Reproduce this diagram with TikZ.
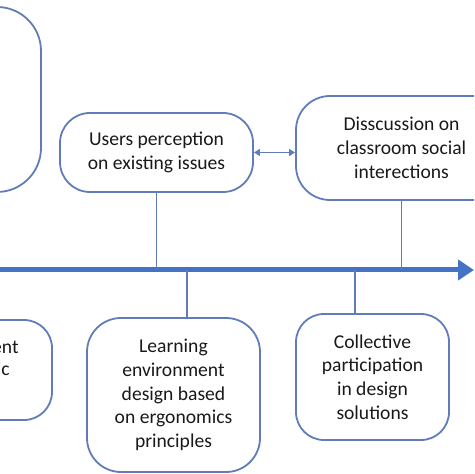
\documentclass[tikz,border=0pt]{standalone}
\usepackage{fontspec}
\setmainfont{Carlito}
\usetikzlibrary{arrows.meta}
\definecolor{boxline}{RGB}{96,124,186}
\definecolor{axisblue}{RGB}{68,114,196}
\definecolor{txt}{RGB}{25,25,25}
\begin{document}
\begin{tikzpicture}[x=0.5pt,y=-0.5pt]
        \tikzstyle{stage}=[draw=boxline,line width=0.9pt,rounded corners=15pt,align=center,text=txt,font=\fontsize{9.8}{11.9}\selectfont,inner sep=0pt]
        \tikzstyle{edge}=[draw=boxline,line width=0.9pt]
        \tikzstyle{axis}=[draw=axisblue,line width=2.5pt,-{Triangle[length=8pt,width=10pt]}]
        \useasboundingbox (0,0) rectangle (474,474);
        \clip (0,0) rectangle (474,474);
       \begin{scope}
         % upper row
         \node [stage,minimum width=101pt,minimum height=92.5pt,rounded corners=22pt] (past) at (-60,99.5) {};
         \node [stage,minimum width=96.5pt,minimum height=39.5pt] (users) at (156.5,152.5) {Users perception\\on existing issues};
         \node [stage,minimum width=105.5pt,minimum height=52pt,rounded corners=17pt] (disc) at (401.5,148) {Disscussion on\\classroom social\\interections};

         % lower row
         \node [stage,minimum width=76pt,minimum height=50pt,rounded corners=14pt] (prev) at (-24,370) {};
         \node [anchor=base east,text=txt,font=\fontsize{9.8}{11.9}\selectfont,inner sep=0pt] (prev1) at (19,353) {ent};
         \node [anchor=base east,text=txt,font=\fontsize{9.8}{11.9}\selectfont,inner sep=0pt] (prev2) at (10,375) {ic};
         \node [stage,minimum width=86.5pt,minimum height=77pt,rounded corners=17pt] (learn) at (173.5,395) {Learning\\environment\\design based\\on ergonomics\\principles};
         \node [stage,minimum width=76.5pt,minimum height=63pt,rounded corners=14pt] (collect) at (372.5,377) {Collective\\participation\\in design\\solutions};

         % time line
         \coordinate (start) at (0,270);
         \coordinate (end) at (474,270);
         \coordinate (b1) at (187,270);
         \coordinate (b2) at (355,270);
         \path[axis] (start) -- (end);

         \path[edge] (users.south) -- (users.south |- start);
         \path[edge] (disc.south) -- (disc.south |- start);
         \path[edge] (b1) -- (b1 |- learn.north);
         \path[edge] (b2) -- (b2 |- collect.north);
         \path[edge,{Triangle[length=3pt,width=3.5pt]}-{Triangle[length=3pt,width=3.5pt]}] (users.east) -- (users.east -| disc.west);
        \end{scope}
      \end{tikzpicture}
\end{document}
